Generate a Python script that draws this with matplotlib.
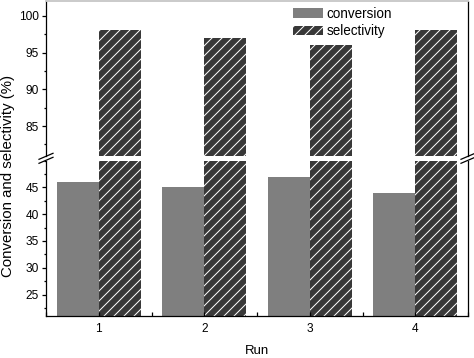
import matplotlib
matplotlib.use('Agg')
import matplotlib.pyplot as plt
from matplotlib.ticker import MultipleLocator
import numpy as np

# data
runs = [1, 2, 3, 4]
conversion = [46, 45, 47, 44]
selectivity = [98, 97, 96, 98]

plt.rcParams['font.family'] = ['Liberation Sans', 'DejaVu Sans']
plt.rcParams['hatch.linewidth'] = 0.8

DPI = 90
fig = plt.figure(figsize=(474 / DPI, 358 / DPI), dpi=DPI)
W, H = 474, 358
left, right = 46 / W, 468 / W
ax_top = fig.add_axes([left, 1 - 155.5 / H, right - left, (155.5 - 1) / H])
ax_bot = fig.add_axes([left, 1 - 316 / H, right - left, (316 - 160.5) / H])

x = np.array(runs)
w = 0.4
for ax in (ax_top, ax_bot):
    ax.bar(x - w / 2, conversion, w, color='#7f7f7f', linewidth=0, label='conversion')
    ax.bar(x + w / 2, selectivity, w, color='#383838', edgecolor='white',
           hatch='///', linewidth=0, label='selectivity')
    ax.set_xlim(0.5, 4.5)
    ax.tick_params(axis='y', direction='out', length=3.5, width=1, labelsize=9.5, pad=2)
    ax.tick_params(axis='y', which='minor', direction='out', length=2, width=1)
    ax.tick_params(axis='x', direction='in', length=3.5, width=1, labelsize=9.5, pad=6)
    ax.tick_params(axis='x', which='minor', direction='in', length=3, width=1)
    for s in ax.spines.values():
        s.set_linewidth(1)

ax_top.set_ylim(81, 102)
ax_top.set_yticks([85, 90, 95, 100])
ax_top.yaxis.set_minor_locator(MultipleLocator(2.5))
ax_top.spines['bottom'].set_visible(False)
ax_top.spines['top'].set_color('#c8c8c8')
ax_top.spines['top'].set_linewidth(1.5)
ax_top.tick_params(axis='x', which='both', bottom=False, labelbottom=False)

ax_bot.set_ylim(21, 50)
ax_bot.set_yticks([25, 30, 35, 40, 45])
ax_bot.yaxis.set_minor_locator(MultipleLocator(2.5))
ax_bot.spines['top'].set_visible(False)
ax_bot.set_xticks(runs)
ax_bot.xaxis.set_minor_locator(MultipleLocator(0.5))
ax_bot.set_xlabel('Run', fontsize=10.5, labelpad=8)

fig.text(8 / W, 1 - 175.5 / H, 'Conversion and selectivity (%)',
         rotation=90, va='center', ha='center', fontsize=12)

ax_top.legend(loc='upper left', bbox_to_anchor=(0.585, 0.962), frameon=False,
              fontsize=10.8, borderpad=0, borderaxespad=0, handlelength=2.2,
              handleheight=0.75, handletextpad=0.3, labelspacing=0.25)

# break marks
for xb in (46, 468):
    for yb in (156.3, 160.3):
        fig.add_artist(plt.Line2D([(xb - 7) / W, (xb + 7) / W],
                                  [1 - (yb + 3) / H, 1 - (yb - 3) / H],
                                  color='black', lw=1))

fig.savefig('out.png', dpi=DPI)
